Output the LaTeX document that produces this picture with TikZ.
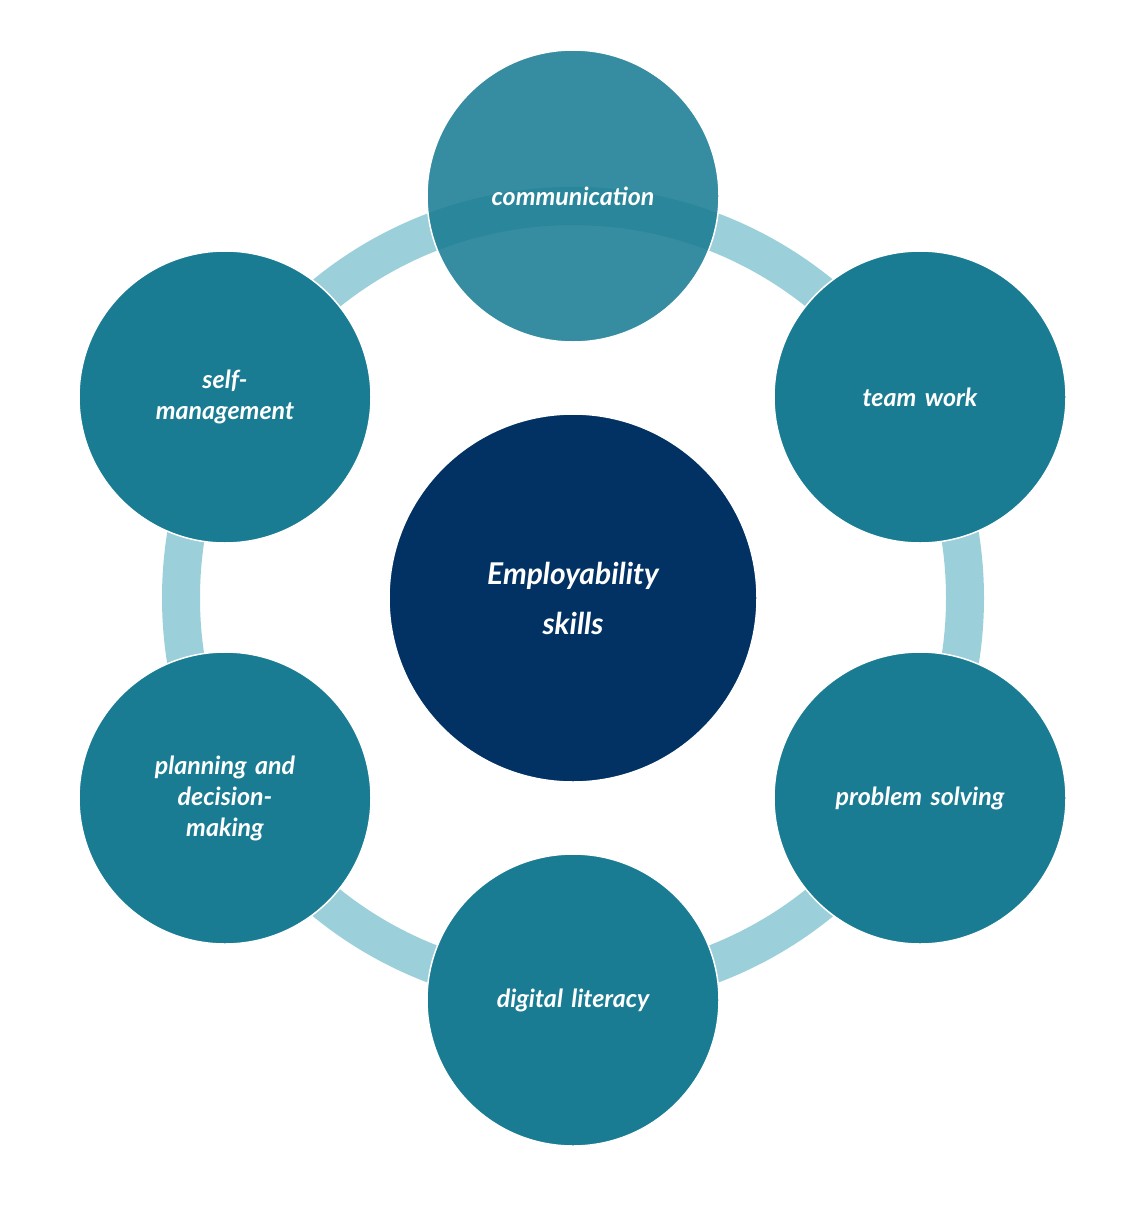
\documentclass[tikz,border=0pt]{standalone}
\usepackage{fontspec}
\setmainfont{Lato}
\usetikzlibrary{positioning}
\definecolor{skillteal}{HTML}{1A7C93}
\definecolor{skillring}{HTML}{9BCFD9}
\definecolor{skillnavy}{HTML}{023263}
\tikzset{
  skill/.style={circle,draw=white,line width=1.5pt,fill=skillteal,minimum size=292pt,
    text=white,align=center,font=\fontsize{25}{31}\selectfont\bfseries\itshape,text width=200pt},
  hub/.style={circle,draw=white,line width=1.5pt,fill=skillnavy,minimum size=368pt,
    text=white,align=center,font=\fontsize{30}{50}\selectfont\bfseries\itshape}
}
\begin{document}
\begin{tikzpicture}[x=1pt,y=-1pt]
\useasboundingbox (0,0) rectangle (1128,1207);
\node[hub] (core) at (573,598) {Employability\\skills};
\draw[skillring,line width=38pt] (core.center) circle (392);
\node[skill] (team) at (920,397) {team work};
\node[skill] (problem) at (920,798) {problem solving};
\node[skill] (digital) at (573,1000) {digital literacy};
\node[skill] (planning) at (225,798) {planning and\\decision-\\making};
\node[skill] (self) at (225,397) {self-\\management};
\node[skill,fill opacity=0.88,text opacity=1] (comm) at (573,196) {communication};
\end{tikzpicture}
\end{document}
